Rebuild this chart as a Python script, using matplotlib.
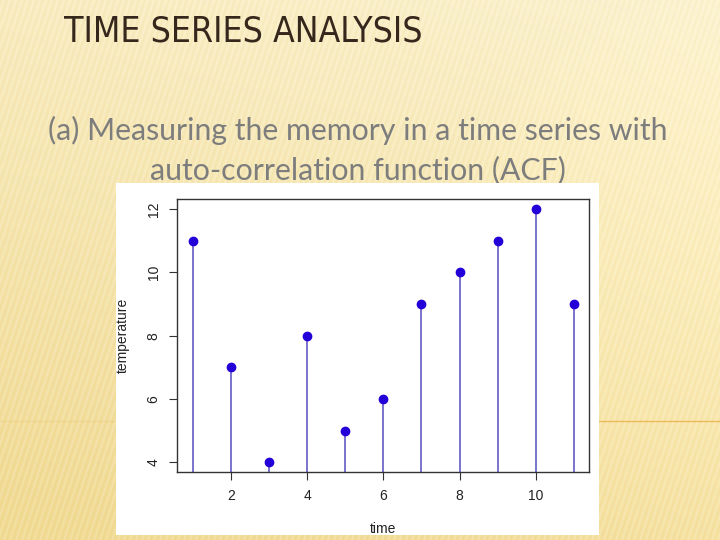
import matplotlib
matplotlib.use("Agg")
import matplotlib.pyplot as plt
import numpy as np
from matplotlib.patches import Rectangle

# data
time = [1, 2, 3, 4, 5, 6, 7, 8, 9, 10, 11]
temperature = [11, 7, 4, 8, 5, 6, 9, 10, 11, 12, 9]
xticks = [2, 4, 6, 8, 10]
yticks = [4, 6, 8, 10, 12]

W, H = 720, 540
fig = plt.figure(figsize=(7.2, 5.4), dpi=100)

# slide background: warm cream gradient with fine diagonal streaks
bg = fig.add_axes([0, 0, 1, 1])
bg.set_xlim(0, W)
bg.set_ylim(H, 0)
bg.axis("off")
yy, xx = np.mgrid[0:H, 0:W]
top = np.array([251, 242, 206]) / 255
bot = np.array([241, 218, 146]) / 255
t = np.clip((yy / H) * 0.8 + (1 - xx / W) * 0.25, 0, 1)[..., None]
img = top * (1 - t) + bot * t
# soft lighter disc on the right
d = np.sqrt((xx - 760) ** 2 + (yy - 300) ** 2)
img = img + (np.clip(1 - d / 320, 0, 1) ** 0.5)[..., None] * 0.02
bg.imshow(np.clip(img, 0, 1), extent=[0, W, H, 0], aspect="auto", zorder=0)
for x0 in np.arange(-200, W + 50, 6):
    bg.plot([x0, x0 + 180], [H, 0], color="white", lw=1.2, alpha=0.18, zorder=1)
    bg.plot([x0 + 3, x0 + 183], [H, 0], color="#d8b870", lw=0.6, alpha=0.10, zorder=1)

# thin orange rule (faint on the left, clear on the right)
bg.plot([0, 116], [421, 421], color="#e8b048", lw=1.0, alpha=0.2, zorder=2)
bg.plot([599, W], [421, 421], color="#e8b048", lw=1.0, alpha=0.8, zorder=2)

bg.text(64, 42, "TIME SERIES ANALYSIS", fontsize=25.5, color="#35271c",
        family=["Liberation Sans Narrow", "DejaVu Sans"], fontstretch="condensed",
        ha="left", va="baseline", zorder=3)

bg.text(358, 130, "(a) Measuring the memory in a time series with", fontsize=21.8,
        color="#7d7d7d", family="Lato", ha="center", va="center", zorder=3)
bg.text(358, 170, "auto-correlation function (ACF)", fontsize=21.8,
        color="#7d7d7d", family="Lato", ha="center", va="center", zorder=3)

# white picture area of the R plot
bg.add_patch(Rectangle((116, 183), 483, 352, facecolor="white", edgecolor="none", zorder=4))

# the R plot itself
ax = fig.add_axes([177.3 / W, 1 - 472.3 / H, 412 / W, 273.3 / H])
ax.set_facecolor("white")
ax.vlines(time, 0, temperature, color="#7068c8", lw=1.3, zorder=2)
ax.plot(time, temperature, "o", color="#2400d8", ms=6, zorder=3)
ax.set_xlim(0.6, 11.4)
ax.set_ylim(3.68, 12.32)
ax.set_xticks(xticks)
ax.set_yticks(yticks)
ax.tick_params(direction="out", length=6, width=0.8, color="#333333",
               labelsize=10, labelcolor="#222222", pad=6)
for lab in ax.get_yticklabels():
    lab.set_rotation(90)
    lab.set_va("center")
for s in ax.spines.values():
    s.set_color("#333333")
    s.set_linewidth(1.0)
ax.set_xlabel("time", fontsize=10, color="#222222", labelpad=14,
              family="Liberation Sans")
ax.set_ylabel("temperature", fontsize=10, color="#222222", labelpad=12,
              family="Liberation Sans")
for lab in ax.get_xticklabels() + ax.get_yticklabels():
    lab.set_family("Liberation Sans")

fig.savefig("out.png", dpi=100)
